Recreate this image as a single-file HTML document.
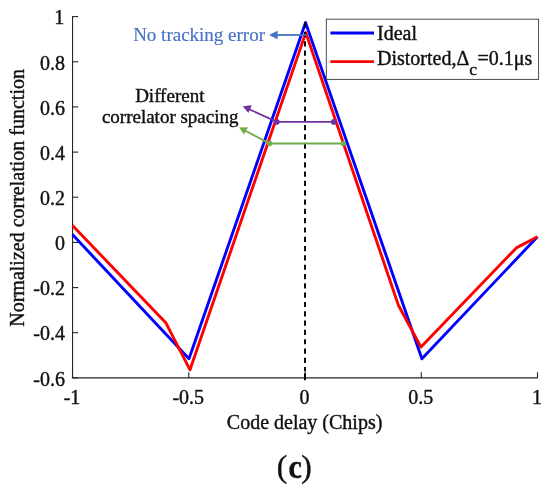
<!DOCTYPE html>
<html><head><meta charset="utf-8"><title>Correlation function</title>
<style>
html,body{margin:0;padding:0;background:#fff;}
svg{display:block;font-family:'Liberation Serif', 'Times New Roman', serif;}
text{fill:#111;stroke:#111;stroke-width:0.4px;}
</style></head><body>
<svg width="550" height="493" viewBox="0 0 550 493">
<rect x="0" y="0" width="550" height="493" fill="#ffffff"/>

<g stroke="#262626" stroke-width="1.1" fill="none">
<path d="M72.55 16.1 V377.9 H538.0"/>
<path d="M72.55 16.6 h5.6"/>
<path d="M72.55 61.8 h5.6"/>
<path d="M72.55 106.9 h5.6"/>
<path d="M72.55 152.1 h5.6"/>
<path d="M72.55 197.2 h5.6"/>
<path d="M72.55 242.4 h5.6"/>
<path d="M72.55 287.6 h5.6"/>
<path d="M72.55 332.7 h5.6"/>
<path d="M72.55 377.9 h5.6"/>
<path d="M72.5 377.9 v-5.6"/>
<path d="M188.8 377.9 v-5.6"/>
<path d="M305.0 377.9 v-5.6"/>
<path d="M421.3 377.9 v-5.6"/>
<path d="M537.5 377.9 v-5.6"/>
</g>
<g font-size="20px" text-anchor="end">
<text x="64.2" y="24.3">1</text>
<text x="64.9" y="69.5">0.8</text>
<text x="64.9" y="114.6">0.6</text>
<text x="64.9" y="159.8">0.4</text>
<text x="64.9" y="204.9">0.2</text>
<text x="64.9" y="250.1">0</text>
<text x="64.9" y="295.3">-0.2</text>
<text x="64.9" y="340.4">-0.4</text>
<text x="64.9" y="385.6">-0.6</text>
</g>
<g font-size="20px" text-anchor="middle">
<text x="72.0" y="403.5">-1</text>
<text x="188.3" y="403.5">-0.5</text>
<text x="304.5" y="403.5">0</text>
<text x="420.8" y="403.5">0.5</text>
<text x="537.0" y="403.5">1</text>
</g>
<text x="304.6" y="429.3" font-size="20px" text-anchor="middle">Code delay (Chips)</text>
<text transform="translate(24.2 197.9) rotate(-90)" font-size="20px" text-anchor="middle">Normalized correlation function</text>
<text x="276.7" y="477.3" font-size="31.5px">(</text><text transform="translate(288.4 478) scale(0.9 1)" font-size="33.5px" font-weight="bold">c</text><text x="301.3" y="477.3" font-size="31.5px">)</text>
<polyline points="72.5,234.6 189.0,358.8 305.6,22.6 421.9,358.8 537.5,236.7" fill="none" stroke="#0000ff" stroke-width="2.9" stroke-linejoin="round"/>
<polyline points="72.5,225.4 166.0,323.1 190.0,369.8 305.8,32.6 398.4,305.3 421.0,347.1 516.3,247.9 537.5,236.7" fill="none" stroke="#ff0000" stroke-width="2.9" stroke-linejoin="round"/>
<path d="M305 22.6 V371.4" stroke="#000" stroke-width="1.9" stroke-dasharray="5.2 4.11" fill="none"/><path d="M305 373.3 V380.3" stroke="#000" stroke-width="1.9" fill="none"/>
<text x="199.1" y="40.5" font-size="19px" text-anchor="middle" style="fill:#4472c4;stroke:#4472c4;stroke-width:0.15px">No tracking error</text>
<path d="M306.5 35 H276" stroke="#4472c4" stroke-width="1.8" fill="none"/>
<path d="M269 35 L277.6 30.8 V39.2 Z" fill="#4472c4"/>
<text x="169.8" y="101.8" font-size="19px" text-anchor="middle">Different</text>
<text x="170.2" y="123" font-size="19px" text-anchor="middle">correlator spacing</text>
<path d="M333.7 121.9 H276.8 L248 108.7" stroke="#7030a0" stroke-width="1.8" fill="none"/>
<circle cx="276.8" cy="121.9" r="2.8" fill="#7030a0"/><circle cx="333.7" cy="121.9" r="2.8" fill="#7030a0"/>
<path d="M242.8 106.3 L251.9 105.3 L248.3 113 Z" fill="#7030a0"/>
<path d="M343.3 143.5 H269.6 L244 130" stroke="#70ad47" stroke-width="1.9" fill="none"/>
<circle cx="269.6" cy="143.5" r="2.8" fill="#70ad47"/><circle cx="343.3" cy="143.5" r="2.8" fill="#70ad47"/>
<path d="M239.1 127.6 L248 127.2 L244 134.6 Z" fill="#70ad47"/>
<rect x="326.3" y="19.2" width="212.3" height="60.2" fill="#fff" stroke="#3a3a3a" stroke-width="0.9"/>
<path d="M330.4 33 H374" stroke="#0000ff" stroke-width="2.9"/>
<path d="M330.4 61.6 H374" stroke="#ff0000" stroke-width="2.9"/>
<text x="377" y="40.1" font-size="20px">Ideal</text>
<text x="377" y="64.6" font-size="20px">Distorted,Δ<tspan dy="10.1" font-size="17.5px">c</tspan><tspan dy="-10.1" dx="0.3">=0.1μs</tspan></text>
</svg>
</body></html>
